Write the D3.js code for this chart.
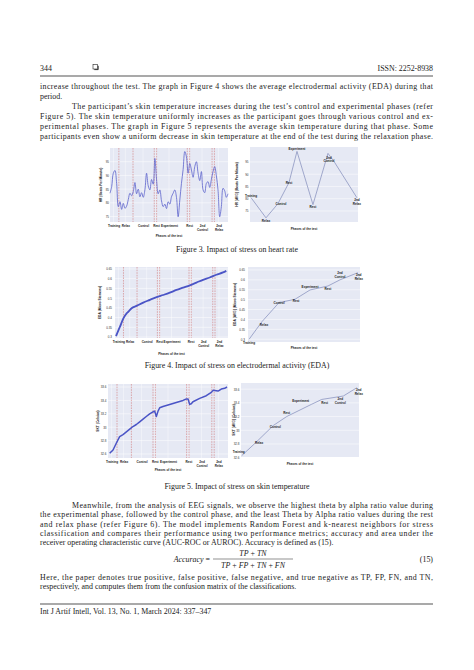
<!DOCTYPE html>
<html>
<head>
<meta charset="utf-8">
<script src="https://cdn.jsdelivr.net/npm/d3@7"></script>
<style>
  body { margin: 0; background: #fff; }
  svg { display: block; }
</style>
</head>
<body>
<div id="page"></div>
<script>
// phase axis (left-hand charts), positions in % of the test
const phaseLabels = ["Training", "Relax", "Control", "Rest", "Experiment", "Rest", "2nd\nControl", "2nd\nRelax"];
const phaseTickPos = [3, 13, 28, 39, 50, 67, 78, 92];
const phaseBounds = [7.5, 19.5, 37.5, 39.5, 65.5, 67.5, 86.5, 88.5];

// Figure 3 - heart rate, evenly spaced samples over the test
const hrValues = [83.5, 85.9, 90.8, 91.8, 87.1, 78.6, 80.4, 77.6, 79.8, 78.0, 78.8, 81.2, 83.5, 82.6, 84.1, 87.4,
  83.3, 85.0, 82.2, 83.7, 82.0, 84.7, 90.8, 86.2, 84.7, 88.5, 86.8, 96.2, 88.5, 83.3, 84.7, 80.7, 78.6, 79.5,
  77.9, 80.4, 79.5, 82.2, 83.5, 84.7, 82.0, 74.9, 81.0, 87.1, 92.2, 98.7, 96.8, 90.8, 94.4, 92.0, 89.3, 93.2,
  95.0, 90.8, 88.1, 91.4, 84.7, 83.7, 87.1, 87.7, 85.6, 88.5, 91.4, 93.2, 89.8, 84.7, 74.9, 78.6, 85.3, 84.4,
  82.0, 83.3];
const hrTicks = [75, 80, 85, 90, 95];
const hrAvgX = [1, 14.8, 25.9, 36.1, 43.5, 58.3, 72.2, 77.8, 99];
const hrAvgY = [80.4, 72.2, 78.0, 86.6, 99.3, 77.6, 98.5, 95.2, 80.4];
const hrAvgLabels = ["Training", "Relax", "Control", "Rest", "Experiment", "Rest", "2nd\nControl", "", "2nd\nRelax"];

// Figure 4 - electrodermal activity
const edaX = [0.9, 4.4, 7.4, 10.3, 11.8, 14.7, 19.1, 25, 30.9, 36.8, 42.6, 48.5, 54.4, 60.3, 66.2, 72.1, 77.9, 83.8, 89.7, 95.6, 98.5];
const edaY = [0.305, 0.353, 0.396, 0.422, 0.43, 0.448, 0.46, 0.477, 0.491, 0.505, 0.516, 0.528, 0.542, 0.554, 0.566, 0.58, 0.594, 0.606, 0.62, 0.632, 0.64];
const edaTicks = [0.3, 0.35, 0.4, 0.45, 0.5, 0.55, 0.6, 0.65];
const edaAvgX = [1, 12.5, 27.7, 42, 55.4, 71.4, 82.1, 98];
const edaAvgY = [0.30, 0.389, 0.485, 0.502, 0.549, 0.569, 0.60, 0.636];
const edaAvgLabels = ["Training", "Relax", "Control", "Rest", "Experiment", "Rest", "2nd\nControl", "2nd\nRelax"];

// Figure 5 - skin temperature
const sktX = [1.4, 4.2, 6.9, 9.7, 12.5, 15.3, 18.1, 20.8, 23.6, 26.4, 29.2, 31.9, 34.7, 37.5, 38.9, 40.3, 41.7, 43.1,
  45.8, 51.4, 56.9, 62.5, 65.3, 66.7, 68.1, 69.4, 70.8, 76.4, 81.9, 86.1, 87.5, 91.7, 94.4, 97.2, 99.2];
const sktY = [32.61, 32.66, 32.76, 32.86, 32.89, 32.93, 32.97, 33.01, 33.04, 33.08, 33.12, 33.16, 33.2, 33.23, 33.24,
  33.16, 33.24, 33.29, 33.31, 33.34, 33.37, 33.40, 33.42, 33.42, 33.34, 33.35, 33.38, 33.43, 33.47, 33.52, 33.55,
  33.54, 33.57, 33.58, 33.60];
const sktTicks = [32.6, 32.8, 33, 33.2, 33.4, 33.6];
const sktAvgX = [0.6, 11.9, 27.4, 38.7, 59.9, 68.4, 86.7, 98.1];
const sktAvgY = [32.63, 32.81, 33.07, 33.2, 33.38, 33.45, 33.5, 33.62];
const sktAvgLabels = ["Training", "Relax", "Control", "Rest", "Experiment", "Rest", "2nd\nControl", "2nd\nRelax"];

const W = 474, H = 670;
const serif = "'Liberation Serif', 'DejaVu Serif', serif";
const sans = "'Liberation Sans', Arial, sans-serif";

const svg = d3.select('#page').append('svg')
  .attr('width', W).attr('height', H);

// ---------- page text ----------
function textLine(str, x, y, opts = {}) {
  const t = svg.append('text')
    .attr('x', x).attr('y', y)
    .attr('font-family', serif)
    .attr('font-size', opts.size || 7.9)
    .attr('fill', '#222')
    .text(str);
  if (opts.justify) t.attr('textLength', 433 - x).attr('lengthAdjust', 'spacing');
  if (opts.anchor) t.attr('text-anchor', opts.anchor);
  return t;
}

textLine("344", 40, 71);
svg.append('rect').attr('x', 93).attr('y', 64.5).attr('width', 4.5).attr('height', 4.5)
  .attr('fill', 'none').attr('stroke', '#222').attr('stroke-width', 0.6);
svg.append('path').attr('d', 'M94.3,69.6H98.2V65.8').attr('fill', 'none').attr('stroke', '#222').attr('stroke-width', 0.9);
textLine("ISSN: 2252-8938", 433, 71, { anchor: 'end' });
svg.append('line').attr('x1', 40).attr('x2', 433).attr('y1', 76).attr('y2', 76)
  .attr('stroke', '#555').attr('stroke-width', 1.1);

const topLines = [
  ["increase throughout the test. The graph in Figure 4 shows the average electrodermal activity (EDA) during that", 40, true],
  ["period.", 40, false],
  ["The participant\u2019s skin temperature increases during the test\u2019s control and experimental phases (refer", 72, true],
  ["Figure 5). The skin temperature uniformly increases as the participant goes through various control and ex-", 40, true],
  ["perimental phases. The graph in Figure 5 represents the average skin temperature during that phase. Some", 40, true],
  ["participants even show a uniform decrease in skin temperature at the end of the test during the relaxation phase.", 40, true]
];
topLines.forEach((l, i) => textLine(l[0], l[1], 89 + i * 10, { justify: l[2] }));

textLine("Figure 3. Impact of stress on heart rate", 237, 252, { anchor: 'middle' });
textLine("Figure 4. Impact of stress on electrodermal activity (EDA)", 237, 368, { anchor: 'middle' });
textLine("Figure 5. Impact of stress on skin temperature", 237, 489, { anchor: 'middle' });

const bottomLines = [
  ["Meanwhile, from the analysis of EEG signals, we observe the highest theta by alpha ratio value during", 72, true],
  ["the experimental phase, followed by the control phase, and the least Theta by Alpha ratio values during the rest", 40, true],
  ["and relax phase (refer Figure 6). The model implements Random Forest and k-nearest neighbors for stress", 40, true],
  ["classification and compares their performance using two performance metrics; accuracy and area under the", 40, true],
  ["receiver operating characteristic curve (AUC-ROC or AUROC). Accuracy is defined as (15).", 40, false]
];
bottomLines.forEach((l, i) => textLine(l[0], l[1], 508 + i * 9.3, { justify: l[2] }));

// formula (15)
const eq = svg.append('text').attr('x', 210).attr('y', 562).attr('text-anchor', 'end')
  .attr('font-family', serif).attr('font-size', 7.9).attr('fill', '#222');
eq.append('tspan').attr('font-style', 'italic').text('Accuracy');
eq.append('tspan').text(' =');
function fracPart(parts, x, y) {
  const t = svg.append('text').attr('x', x).attr('y', y).attr('text-anchor', 'middle')
    .attr('font-family', serif).attr('font-size', 7.9).attr('fill', '#222');
  parts.forEach((p, i) => {
    if (i > 0) t.append('tspan').text(' + ');
    t.append('tspan').attr('font-style', 'italic').text(p);
  });
}
fracPart(["TP", "TN"], 253, 556);
fracPart(["TP", "FP", "TN", "FN"], 253, 568);
svg.append('line').attr('x1', 213).attr('x2', 293).attr('y1', 559).attr('y2', 559)
  .attr('stroke', '#222').attr('stroke-width', 0.5);
textLine("(15)", 433, 562, { anchor: 'end' });

textLine("Here, the paper denotes true positive, false positive, false negative, and true negative as TP, FP, FN, and TN,", 40, 580, { justify: true });
textLine("respectively, and computes them from the confusion matrix of the classifications.", 40, 589);
svg.append('line').attr('x1', 40).attr('x2', 433).attr('y1', 604).attr('y2', 604)
  .attr('stroke', '#555').attr('stroke-width', 1.1);
textLine("Int J Artif Intell, Vol. 13, No. 1, March 2024: 337\u2013347", 40, 614);

// ---------- chart panels ----------
function panel(cfg) {
  const g = svg.append('g');
  const x = d3.scaleLinear().domain([0, 100]).range([cfg.left, cfg.right]);
  const y = d3.scaleLinear().domain(cfg.yDomain).range([cfg.bottom, cfg.top]);

  g.append('rect')
    .attr('x', cfg.left).attr('y', cfg.top)
    .attr('width', cfg.right - cfg.left).attr('height', cfg.bottom - cfg.top)
    .attr('fill', '#e6e9f4');

  // white grid
  g.selectAll('.hgrid').data(cfg.yTicks).join('line')
    .attr('x1', cfg.left).attr('x2', cfg.right)
    .attr('y1', d => y(d)).attr('y2', d => y(d))
    .attr('stroke', '#fff').attr('stroke-width', 0.5);
  if (cfg.phaseAxis) {
    g.selectAll('.vgrid').data(phaseTickPos).join('line')
      .attr('x1', d => x(d)).attr('x2', d => x(d))
      .attr('y1', cfg.top).attr('y2', cfg.bottom)
      .attr('stroke', '#fff').attr('stroke-width', 0.4);
  }

  // y axis
  const ya = g.append('g')
    .attr('transform', `translate(${cfg.tickX},0)`)
    .call(d3.axisLeft(y).tickValues(cfg.yTicks).tickSize(0).tickPadding(0)
      .tickFormat(d => String(+d.toFixed(2))));
  ya.select('.domain').remove();
  ya.selectAll('text').attr('font-family', sans).attr('font-size', 3).attr('fill', '#333');

  g.append('text')
    .attr('transform', `translate(${cfg.titleX},${(cfg.top + cfg.bottom) / 2}) rotate(-90)`)
    .attr('text-anchor', 'middle')
    .attr('font-family', sans).attr('font-weight', 'bold').attr('font-size', 3.3).attr('fill', '#222')
    .text(cfg.yTitle);

  // x axis
  if (cfg.phaseAxis) {
    const xa = g.append('g')
      .attr('transform', `translate(0,${cfg.bottom + 3})`)
      .call(d3.axisBottom(x).tickValues(phaseTickPos).tickSize(0).tickPadding(0)
        .tickFormat((d, i) => phaseLabels[i]));
    xa.select('.domain').remove();
    xa.selectAll('text')
      .attr('font-family', sans).attr('font-weight', 'bold').attr('font-size', 3.1).attr('fill', '#222')
      .each(function (d, i) {
        const parts = phaseLabels[i].split('\n');
        const t = d3.select(this).text(null);
        parts.forEach((p, k) => t.append('tspan').attr('x', 0).attr('dy', k ? '1.15em' : '0.71em').text(p));
      });

    // phase boundaries
    g.selectAll('.bound').data(phaseBounds).join('line')
      .attr('x1', d => x(d)).attr('x2', d => x(d))
      .attr('y1', cfg.top).attr('y2', cfg.bottom)
      .attr('stroke', '#cf6f6f').attr('stroke-width', 0.55)
      .attr('stroke-dasharray', '1.6,1');
  }
  g.append('text')
    .attr('x', (cfg.left + cfg.right) / 2).attr('y', cfg.xTitleY)
    .attr('text-anchor', 'middle')
    .attr('font-family', sans).attr('font-weight', 'bold').attr('font-size', 3.1).attr('fill', '#222')
    .text('Phases of the test');

  // series
  const pts = cfg.xs.map((v, i) => [v, cfg.ys[i]]);
  g.append('path')
    .datum(pts)
    .attr('fill', 'none')
    .attr('stroke', cfg.color)
    .attr('stroke-width', cfg.width)
    .attr('stroke-linejoin', 'round')
    .attr('d', d3.line().x(d => x(d[0])).y(d => y(d[1])).curve(cfg.curve || d3.curveLinear));

  // point labels for the averaged charts
  if (cfg.labels) {
    cfg.labels.forEach((lab, i) => {
      if (!lab) return;
      const off = cfg.labelOff[i];
      const parts = lab.split('\n');
      const t = g.append('text')
        .attr('x', x(cfg.xs[i]) + off[0])
        .attr('y', y(cfg.ys[i]) + off[1] - (parts.length - 1) * 1.75 + 1.1)
        .attr('text-anchor', 'middle')
        .attr('font-family', sans).attr('font-weight', 'bold').attr('font-size', 3.1).attr('fill', '#222');
      parts.forEach((p, k) => t.append('tspan')
        .attr('x', x(cfg.xs[i]) + off[0]).attr('dy', k ? 3.5 : 0).text(p));
    });
  }
}

const idx = d3.scaleLinear().domain([0, hrValues.length - 1]).range([0, 100]);

// Figure 3
panel({
  left: 110, right: 228, top: 148, bottom: 222, tickX: 109, titleX: 102, xTitleY: 237,
  yDomain: [73, 100], yTicks: hrTicks, yTitle: 'HR (Beats Per Minute)', phaseAxis: true,
  xs: hrValues.map((v, i) => idx(i)), ys: hrValues, color: '#5c62cc', width: 0.8, curve: d3.curveCatmullRom
});
panel({
  left: 250, right: 358, top: 147, bottom: 222, tickX: 248.5, titleX: 238, xTitleY: 230,
  yDomain: [70.5, 101.1], yTicks: hrTicks, yTitle: 'HR [AVG] (Beats Per Minute)',
  xs: hrAvgX, ys: hrAvgY, color: '#8089b9', width: 0.7,
  labels: hrAvgLabels,
  labelOff: [[0, -2], [0, 3], [3, 0], [0, 0], [0, -2.5], [0, 2.5], [1, 6], [0, 0], [0, 4]]
});

// Figure 4
panel({
  left: 115, right: 228, top: 267, bottom: 338, tickX: 112, titleX: 101, xTitleY: 355,
  yDomain: [0.295, 0.66], yTicks: edaTicks, yTitle: 'EDA (Micro Siemens)', phaseAxis: true,
  xs: edaX, ys: edaY, color: '#4a54c6', width: 1.8, curve: d3.curveMonotoneX
});
panel({
  left: 248, right: 360, top: 267, bottom: 342, tickX: 245, titleX: 236, xTitleY: 349,
  yDomain: [0.286, 0.665], yTicks: edaTicks, yTitle: 'EDA [AVG] (Micro Siemens)',
  xs: edaAvgX, ys: edaAvgY, color: '#8089b9', width: 0.7,
  labels: edaAvgLabels,
  labelOff: [[0, 3.5], [2, 3], [0, 0], [1, 1.5], [0, -3], [0, 3], [0, -5], [1, 4]]
});

// Figure 5
panel({
  left: 108, right: 228, top: 384, bottom: 458, tickX: 106.5, titleX: 99, xTitleY: 471,
  yDomain: [32.54, 33.645], yTicks: sktTicks, yTitle: 'SKT (Celsius)', phaseAxis: true,
  xs: sktX, ys: sktY, color: '#4a54c6', width: 1.5, curve: d3.curveLinear
});
panel({
  left: 241, right: 359, top: 383, bottom: 457, tickX: 239.5, titleX: 235, xTitleY: 465,
  yDomain: [32.61, 33.69], yTicks: sktTicks, yTitle: 'SKT [AVG] (Celsius)',
  xs: sktAvgX, ys: sktAvgY, color: '#8089b9', width: 0.7,
  labels: sktAvgLabels,
  labelOff: [[-3, -4], [4, 0], [2, 1], [0, -4], [-11, -3], [3, 3], [-3, 5], [2, 4]]
});
</script>
</body>
</html>
